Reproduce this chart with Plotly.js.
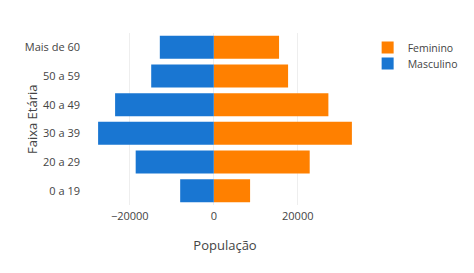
<!DOCTYPE html>
<html>
<head>
<meta charset="utf-8">
<script src="https://cdn.plot.ly/plotly-3.0.1.min.js"></script>
<style>html,body{margin:0;padding:0;background:#fff;}#chart{width:474px;height:273px;}</style>
</head>
<body>
<div id="chart"></div>
<script>
const faixas = ["0 a 19", "20 a 29", "30 a 39", "40 a 49", "50 a 59", "Mais de 60"];
const feminino = [8650, 22850, 32900, 27300, 17700, 15550];
const masculino = [-8000, -18600, -27550, -23500, -14900, -12850];
const xTickVals = [-20000, 0, 20000];
const xTickText = ["−20000", "0", "20000"];

const data = [
  {type: "bar", orientation: "h", name: "Feminino", y: faixas, x: feminino, marker: {color: "#ff8000"}},
  {type: "bar", orientation: "h", name: "Masculino", y: faixas, x: masculino, marker: {color: "#1976d2"}, legend: "legend2"}
];
const W = 474 - 84 - 108;
const H = 273 - 33 - 68;
const legX = 1.02 - 4 / W;
const layout = {
  width: 474, height: 273,
  barmode: "relative",
  bargap: 0.2,
  margin: {l: 84, r: 108, t: 33, b: 68, autoexpand: false},
  font: {family: "Open Sans, sans-serif", color: "#444", size: 11},
  paper_bgcolor: "#fff", plot_bgcolor: "#fff",
  xaxis: {title: {text: "População", font: {size: 13}, standoff: 18}, gridcolor: "#eee", zeroline: false,
          tickvals: xTickVals, ticktext: xTickText, automargin: false, ticklabelstandoff: 3},
  yaxis: {automargin: false, ticklabelstandoff: 3},
  legend: {x: legX, y: 1, xanchor: "left", yanchor: "top", font: {size: 10.5}, bgcolor: "rgba(0,0,0,0)"},
  legend2: {x: legX, y: 1 - 16 / H, xanchor: "left", yanchor: "top", font: {size: 10.5}, bgcolor: "rgba(0,0,0,0)"},
  showlegend: true,
  annotations: [{text: "Faixa Etária", textangle: -90, xref: "paper", yref: "paper",
                 x: (32 - 84) / W, y: 0.5, xanchor: "center", yanchor: "middle", showarrow: false,
                 font: {size: 13, color: "#444"}}]
};
Plotly.newPlot("chart", data, layout, {displayModeBar: false});
</script>
</body>
</html>
